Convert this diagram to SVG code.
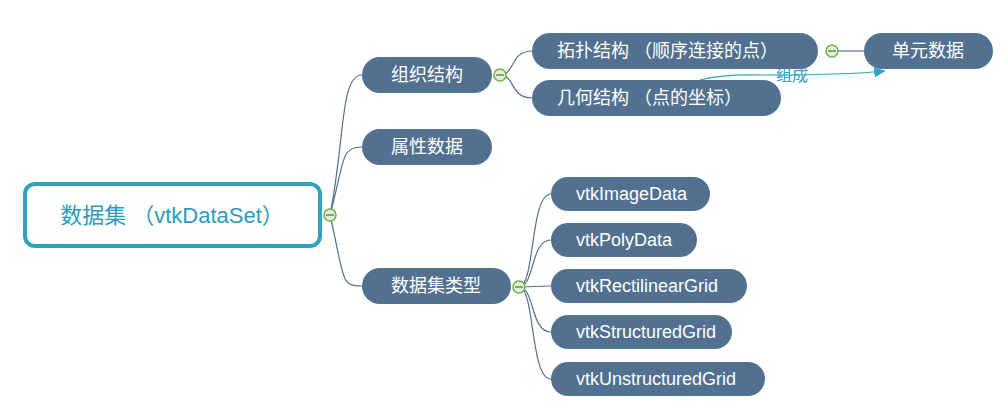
<svg xmlns="http://www.w3.org/2000/svg" width="1008" height="414" viewBox="0 0 1008 414">
<style>
.n{fill:#52708f}
.t{fill:#fff;font-family:"Liberation Sans","Noto Sans CJK SC",sans-serif;font-size:18px;dominant-baseline:central}
.c{fill:none;stroke:#52708f;stroke-width:1.2}
.k{fill:#e4eee0;stroke:#6db33f;stroke-width:1.5}
.m{stroke:#3a7a2a;stroke-width:1.2}
</style>
<defs><marker id="a" markerWidth="12" markerHeight="10" refX="10" refY="5" orient="auto" markerUnits="userSpaceOnUse"><path d="M0,0 L12,5 L0,10 Z" fill="#2ea3c0"/></marker></defs>
<g id="connectors">
<path class="c" d="M330,215 C345,140 340,75 362,75"/>
<path class="c" d="M330,215 C345,160 340,147 362,147"/>
<path class="c" d="M330,215 C345,280 340,286 362,286"/>
<path class="c" d="M500,75 C515,75 510,51 532,51"/>
<path class="c" d="M500,75 C515,75 510,98 532,98"/>
<path class="c" d="M832,51 L864,51"/>
<path class="c" d="M519,287 C535,287 530,194 551,194"/>
<path class="c" d="M519,287 C535,287 530,240 551,240"/>
<path class="c" d="M519,287 L551,286"/>
<path class="c" d="M519,287 C535,287 530,332 551,332"/>
<path class="c" d="M519,287 C535,287 530,379 551,379"/>
<path d="M700,80 C730,72 760,76 800,75 C840,74 870,73 884,71" fill="none" stroke="#2ea3c0" stroke-width="1.2" marker-end="url(#a)"/>
<text x="792" y="75" fill="#2ea3c0" font-family="Liberation Sans,Noto Sans CJK SC,sans-serif" font-size="16" text-anchor="middle" dominant-baseline="central">组成</text>
</g>
<g id="root"><rect x="25" y="184" width="295" height="62" rx="10" fill="#fff" stroke="#2ea3c0" stroke-width="4"/><text x="172" y="215" text-anchor="middle" fill="#2e9bbd" font-family="Liberation Sans,Noto Sans CJK SC,sans-serif" font-size="22" dominant-baseline="central">数据集 （vtkDataSet）</text></g>
<g id="n1"><rect class="n" x="362" y="57" width="130" height="36" rx="18"/><text class="t" x="427" y="75" text-anchor="middle">组织结构</text></g>
<g id="n2"><rect class="n" x="362" y="129" width="130" height="36" rx="18"/><text class="t" x="427" y="147" text-anchor="middle">属性数据</text></g>
<g id="n3"><rect class="n" x="362" y="268" width="149" height="36" rx="18"/><text class="t" x="436" y="286" text-anchor="middle">数据集类型</text></g>
<g id="n4"><rect class="n" x="532" y="33" width="286" height="36" rx="18"/><text class="t" x="557" y="51">拓扑结构 （顺序连接的点）</text></g>
<g id="n5"><rect class="n" x="532" y="80" width="249" height="36" rx="18"/><text class="t" x="557" y="98">几何结构 （点的坐标）</text></g>
<g id="n6"><rect class="n" x="864" y="33" width="129" height="36" rx="18"/><text class="t" x="928" y="51" text-anchor="middle">单元数据</text></g>
<g id="v1"><rect class="n" x="551" y="177" width="159" height="34" rx="17"/><text class="t" x="576" y="194">vtkImageData</text></g>
<g id="v2"><rect class="n" x="551" y="223" width="146" height="34" rx="17"/><text class="t" x="576" y="240">vtkPolyData</text></g>
<g id="v3"><rect class="n" x="551" y="269" width="196" height="34" rx="17"/><text class="t" x="576" y="286">vtkRectilinearGrid</text></g>
<g id="v4"><rect class="n" x="551" y="315" width="181" height="34" rx="17"/><text class="t" x="576" y="332">vtkStructuredGrid</text></g>
<g id="v5"><rect class="n" x="551" y="362" width="214" height="34" rx="17"/><text class="t" x="576" y="379">vtkUnstructuredGrid</text></g>
<g id="toggles">
<circle class="k" cx="330" cy="215" r="6"/><path class="m" d="M326,215h8"/>
<circle class="k" cx="500" cy="75" r="6"/><path class="m" d="M496,75h8"/>
<circle class="k" cx="519" cy="287" r="6"/><path class="m" d="M515,287h8"/>
<circle class="k" cx="832" cy="51" r="6"/><path class="m" d="M828,51h8"/>
</g>
</svg>
